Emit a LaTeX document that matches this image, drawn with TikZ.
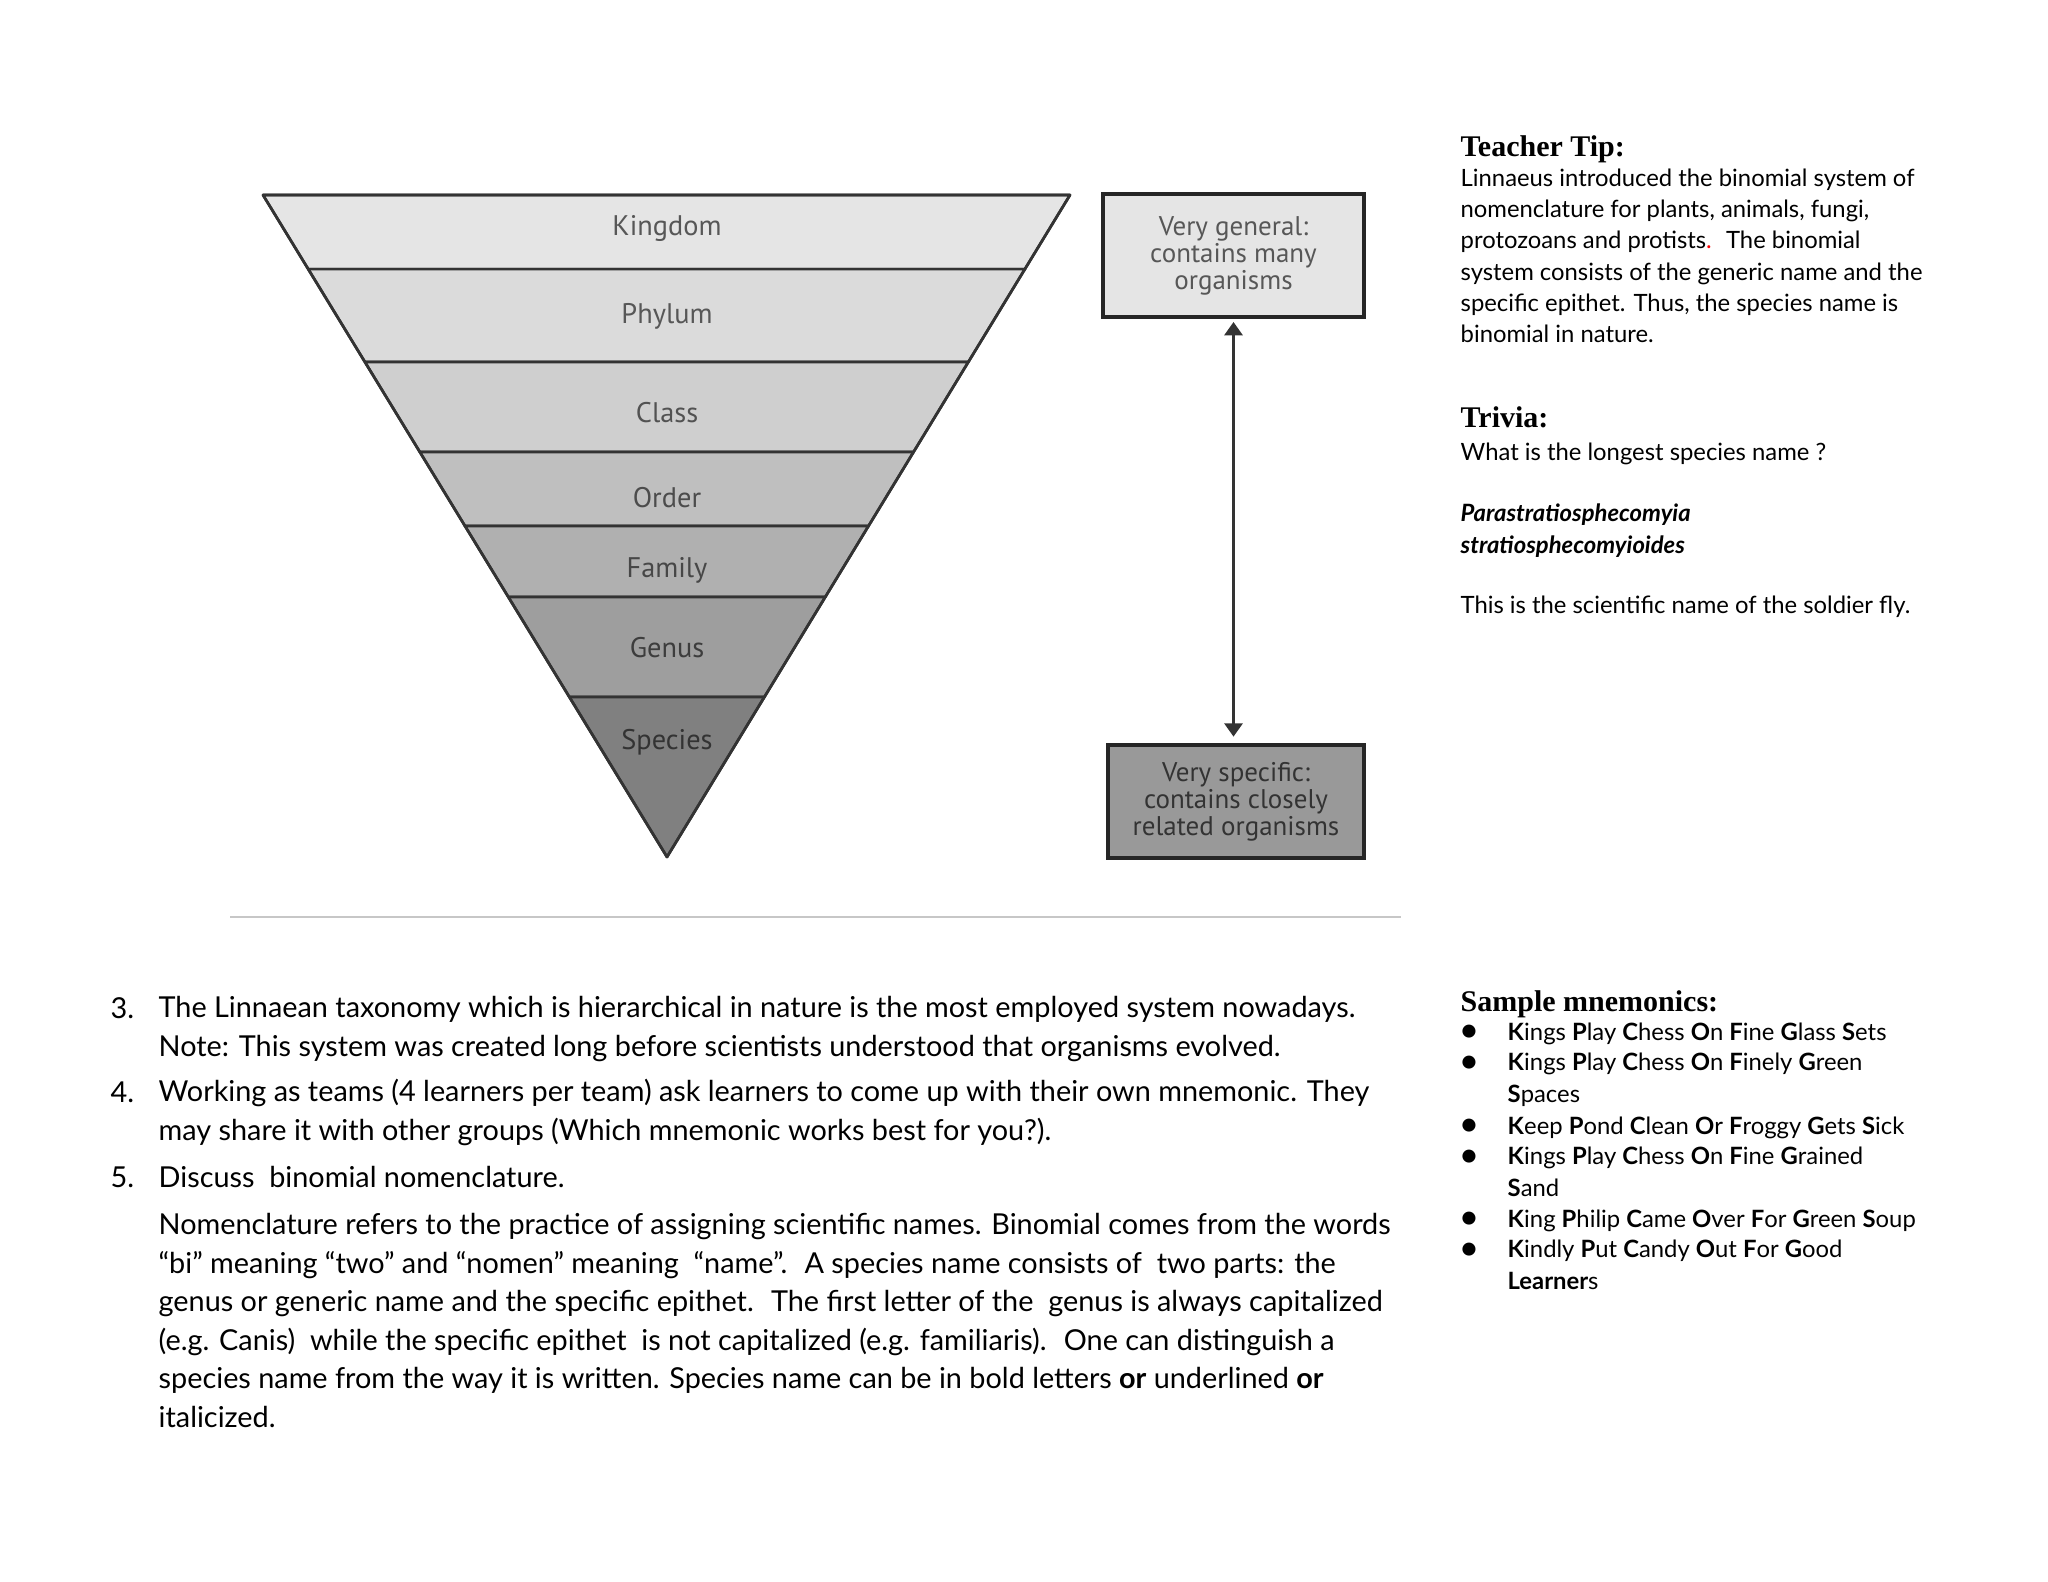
\documentclass[tikz,border=0pt]{standalone}
\usepackage{fontspec}
\setmainfont{Lato}
\newfontfamily\headfont{Liberation Serif}
\newfontfamily\chartfont{PT Sans}
\usepackage{tikz}
\usetikzlibrary{
    arrows.meta
  , calc
  , positioning
}
\newcommand{\fl}[1]{\textbf{#1}}

\begin{document}
\begin{tikzpicture}[x=0.3pt, y=-0.3pt,
    band/.style={draw=black!80, line width=0.8pt, line join=round},
    level/.style={font=\chartfont\fontsize{8.5pt}{9pt}\selectfont, text=black!68},
    infobox/.style={draw=black!85, line width=1pt, align=center, inner sep=0pt, text=black!66, font=\chartfont\fontsize{8.1pt}{8.1pt}\selectfont},
    body/.style={anchor=base west, inner sep=0pt, align=left, font=\fontsize{8.65pt}{11.55pt}\selectfont},
    side/.style={anchor=base west, inner sep=0pt, align=left, font=\fontsize{7.15pt}{9.4pt}\selectfont},
    head/.style={anchor=base west, inner sep=0pt, font=\headfont\bfseries\fontsize{9pt}{10pt}\selectfont}]
  \useasboundingbox (0,0) rectangle (2048,1582);
  % Pyramid of ranks
  \coordinate (tl) at (263,195);
  \coordinate (tr) at (1070,195);
  \coordinate (apex) at (667,857);
  \foreach \ta/\tb/\g/\ly/\tc/\lbl [count=\i] in {0/0.112/10/228/66/Kingdom, 0.112/0.2523/14/316/66/Phylum, 0.2523/0.3882/19/413/68/Class, 0.3882/0.5/25/498/70/Order, 0.5/0.6073/31/570/72/Family, 0.6073/0.7583/38/648/76/Genus, 0.7583/1/50/742/80/Species}
  {
    \draw[band, fill=black!\g] ($(tl)!\ta!(apex)$) -- ($(tr)!\ta!(apex)$) -- ($(tr)!\tb!(apex)$) -- ($(tl)!\tb!(apex)$) -- cycle;
    \node[level, text=black!\tc] (level\i) at (667,\ly) {\lbl};
  }
  \draw[band] (tl) -- (tr) -- (apex) -- cycle;
  % Range boxes
  \node[infobox, fill=black!10, minimum width=78.3pt, minimum height=36.9pt] (general) at (1233.5,255.5) {Very general:\\contains many\\organisms};
  \node[infobox, fill=black!40, text=black!80, minimum width=76.8pt, minimum height=33.9pt] (specific) at (1236,801.5) {Very specific:\\contains closely\\related organisms};
  \draw[{Triangle[width=5.4pt,length=4pt]}-{Triangle[width=5.4pt,length=4pt]}, line width=0.9pt, black!80, shorten <=1pt, shorten >=2pt] (general.south) -- (general.south |- specific.north);
  % Separator
  \draw[black!22, line width=0.8pt] (230,917) -- (1401,917);
  % Lesson steps (anchored on the last line)
  \node[body] (n3) at (110,1018) {3.};
  \node[body] (item3) at (158,1056) {The Linnaean taxonomy which is hierarchical in nature is the most employed system nowadays.\\Note: This system was created long before scientists understood that organisms evolved.};
  \node[body] (n4) at (110,1102) {4.};
  \node[body] (item4) at (158,1140) {Working as teams (4 learners per team) ask learners to come up with their own mnemonic. They\\may share it with other groups (Which mnemonic works best for you?).};
  \node[body] (n5) at (110,1187) {5.};
  \node[body] (item5) at (158,1187) {Discuss \ binomial nomenclature.};
  \node[body] (para) at (158,1427) {Nomenclature refers to the practice of assigning scientific names. Binomial comes from the words\\“bi” meaning “two” and “nomen” meaning \ “name”. \ A species name consists of \ two parts: the\\genus or generic name and the specific epithet. \ The first letter of the \ genus is always capitalized\\(e.g. Canis) \ while the specific epithet \ is not capitalized (e.g. familiaris). \ One can distinguish a\\species name from the way it is written. Species name can be in bold letters \textbf{or} underlined \textbf{or}\\italicized.};
  % Teacher tip
  \node[head] (tiphead) at (1460,157) {Teacher Tip:};
  \node[side] (tipbody) at (1460,343) {Linnaeus introduced the binomial system of\\nomenclature for plants, animals, fungi,\\protozoans and protists{\color{red}.} \ The binomial\\system consists of the generic name and the\\specific epithet. Thus, the species name is\\binomial in nature.};
  % Trivia
  \node[head] (trivhead) at (1460,428) {Trivia:};
  \node[side] (question) at (1460,460) {What is the longest species name ?};
  \node[side, font=\fontsize{7.15pt}{9.4pt}\selectfont\bfseries\itshape] (answer) at (1460,553) {Parastratiosphecomyia\\stratiosphecomyioides};
  \node[side] (fly) at (1460,613) {This is the scientific name of the soldier fly.};
  % Mnemonics
  \node[head] (mnehead) at (1460,1011) {Sample mnemonics:};
  \foreach \y/\yl/\txt [count=\i] in {1040/1040/{\fl{K}ings \fl{P}lay \fl{C}hess \fl{O}n \fl{F}ine \fl{G}lass \fl{S}ets}, 1071/1102.3/{\fl{K}ings \fl{P}lay \fl{C}hess \fl{O}n \fl{F}inely \fl{G}reen\\\fl{S}paces}, 1134/1134/{\fl{K}eep \fl{P}ond \fl{C}lean \fl{O}r \fl{F}roggy \fl{G}ets \fl{S}ick}, 1165/1196.3/{\fl{K}ings \fl{P}lay \fl{C}hess \fl{O}n \fl{F}ine \fl{G}rained\\\fl{S}and}, 1227/1227/{\fl{K}ing \fl{P}hilip \fl{C}ame \fl{O}ver \fl{F}or \fl{G}reen \fl{S}oup}, 1258/1289.3/{\fl{K}indly \fl{P}ut \fl{C}andy \fl{O}ut \fl{F}or \fl{G}ood\\\fl{Learner}s}}
  {
    \node[side, anchor=base, font=\fontsize{9pt}{9.4pt}\selectfont\bfseries] (dot\i) at (1469,\y) {•};
    \node[side] (mne\i) at (1507,\yl) {\txt};
  }
\end{tikzpicture}
\end{document}
